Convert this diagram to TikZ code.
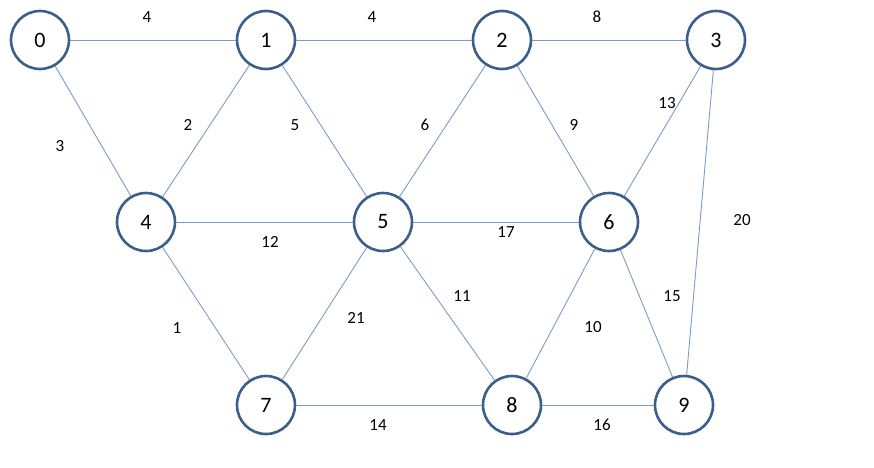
\documentclass[tikz,border=0pt]{standalone}
\usepackage{fontspec}
\setmainfont{Carlito}
\begin{document}
\begin{tikzpicture}[x=1pt,y=-1pt,
  vert/.style={circle,draw=vblue,line width=2.6pt,fill=white,minimum size=58pt,inner sep=0pt,font=\fontsize{22}{24}\selectfont},
  edge/.style={draw=eblue,line width=0.9pt},
  lab/.style={font=\fontsize{17}{19}\selectfont}]
\definecolor{vblue}{HTML}{3B5E8C}
\definecolor{eblue}{HTML}{7A9CC8}
\useasboundingbox (0,0) rectangle (874,467);
\node[vert] (n0) at (40,40) {0};
\node[vert] (n1) at (266,40) {1};
\node[vert] (n2) at (502,40) {2};
\node[vert] (n3) at (716,40) {3};
\node[vert] (n4) at (146,222) {4};
\node[vert] (n5) at (383,222) {5};
\node[vert] (n6) at (609,222) {6};
\node[vert] (n7) at (266,405) {7};
\node[vert] (n8) at (512,405) {8};
\node[vert] (n9) at (684,405) {9};
\begin{scope}[on background layer/.style={}]
\foreach \a/\b in {0/1,1/2,2/3,0/4,1/4,1/5,2/5,2/6,3/6,3/9,4/5,5/6,4/7,5/7,5/8,6/8,6/9,7/8,8/9}
  \draw[edge] (n\a) -- (n\b);
\end{scope}
\node[lab] (l01) at (147,17) {4};
\node[lab] (l12) at (372,17) {4};
\node[lab] (l23) at (597,17) {8};
\node[lab] (l04) at (60,146) {3};
\node[lab] (l14) at (188,125) {2};
\node[lab] (l15) at (295,125) {5};
\node[lab] (l25) at (425,125) {6};
\node[lab] (l26) at (574,125) {9};
\node[lab] (l36) at (667,103) {13};
\node[lab] (l39) at (742,220) {20};
\node[lab] (l45) at (270,242) {12};
\node[lab] (l56) at (506,232) {17};
\node[lab] (l47) at (177,328) {1};
\node[lab] (l57) at (356,318) {21};
\node[lab] (l58) at (462,296) {11};
\node[lab] (l68) at (593,327) {10};
\node[lab] (l69) at (672,296) {15};
\node[lab] (l78) at (378,425) {14};
\node[lab] (l89) at (602,425) {16};
\end{tikzpicture}
\end{document}
